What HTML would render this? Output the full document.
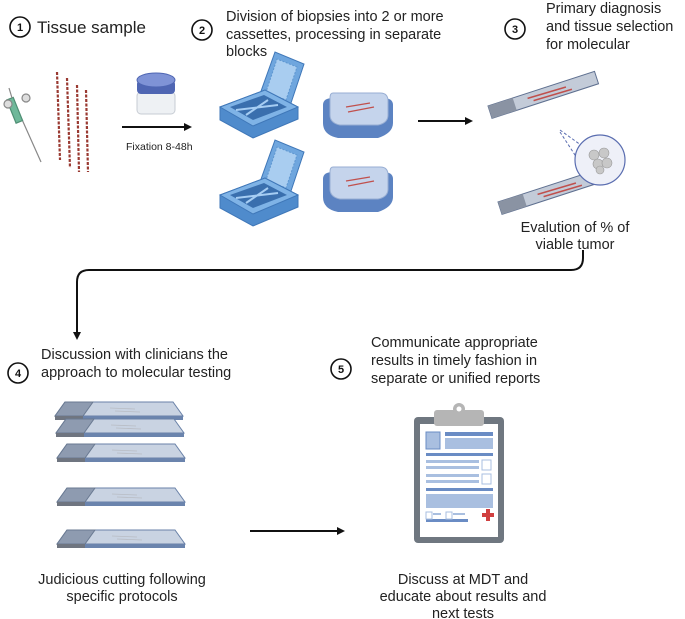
<!DOCTYPE html>
<html><head><meta charset="utf-8"><style>
html,body{margin:0;padding:0;background:#fff;}
svg{display:block;font-family:"Liberation Sans",sans-serif;}
</style></head><body>
<svg width="685" height="619" viewBox="0 0 685 619" xmlns="http://www.w3.org/2000/svg">
<defs>
<marker id="ah" markerWidth="8" markerHeight="8" refX="6" refY="4" orient="auto" markerUnits="userSpaceOnUse"><path d="M0,0 L8,4 L0,8 z" fill="#111"/></marker>
<g id="slide">
<path d="M10,0 L118,0 L128,14 L0,14 z" fill="#c9d3e2" stroke="#6a82a8" stroke-width="1"/>
<path d="M10,0 L38,0 L28,14 L0,14 z" fill="#8e9bb0" stroke="#6a7a92" stroke-width="1"/>
<rect x="0" y="14" width="128" height="4" fill="#6b84ad"/>
<rect x="0" y="14" width="28" height="4" fill="#6f7580"/>
<path d="M55,6 L80,7 M60,9 L85,10" stroke="#b8bcc4" stroke-width="0.8"/>
</g>
<g id="cass">
<!-- lid -->
<path d="M40,32 L70,44 L84,2 L55,-10 z" fill="#6fa6de" stroke="#3f77b8"/>
<path d="M46,30 L66,38 L77,5 L57,-3 z" fill="#a9cdf0" stroke="#5f97d0" stroke-dasharray="2 1.5"/>
<!-- base -->
<path d="M0,45 L45,28 L78,45 L78,57 L33,76 L0,58 z" fill="#4f8bcc" stroke="#3f77b8"/>
<path d="M0,45 L45,28 L78,45 L33,64 z" fill="#7fb3e6" stroke="#3f77b8"/>
<path d="M10,45 L44,33 L67,45 L33,58 z" fill="#3a6fae"/>
<path d="M16,48 L58,43 M26,53 L48,38" stroke="#a6cdf3" stroke-width="2"/>
</g>
<g id="block">
<path d="M5,25 L5,12 Q5,5 15,5 L65,5 Q75,5 75,12 L75,30 Q75,40 60,45 L20,45 Q5,42 5,30 z" fill="#5c83c2"/>
<path d="M15,0 L62,0 Q70,0 70,8 L70,22 Q70,30 60,32 L22,32 Q12,30 12,22 L12,5 Q12,0 15,0 z" fill="#c5d4ec" stroke="#98aed3"/>
<path d="M28,14 L52,10 M30,19 L56,14" stroke="#c0504d" stroke-width="1.3"/>
</g>
</defs>

<g fill="none" stroke="#111" stroke-width="1.6">
<circle cx="20" cy="27" r="10"/><circle cx="202" cy="30" r="10"/><circle cx="515" cy="29" r="10"/>
<circle cx="18" cy="373" r="10"/><circle cx="341" cy="369" r="10"/>
</g>
<g font-size="11" font-weight="bold" text-anchor="middle" fill="#111">
<text x="20" y="31">1</text><text x="202" y="34">2</text><text x="515" y="33">3</text>
<text x="18" y="377">4</text><text x="341" y="373">5</text>
</g>
<g fill="#222">
<text x="37" y="33" font-size="17">Tissue sample</text>
<g font-size="14.5"><text x="226" y="21">Division of biopsies into 2 or more</text>
<text x="226" y="39">cassettes, processing in separate</text>
<text x="226" y="56">blocks</text>
<text x="546" y="13">Primary diagnosis</text>
<text x="546" y="31">and tissue selection</text>
<text x="546" y="49">for molecular</text>
<text x="41" y="359">Discussion with clinicians the</text>
<text x="41" y="377">approach to molecular testing</text>
<text x="371" y="347">Communicate appropriate</text>
<text x="371" y="365">results in timely fashion in</text>
<text x="371" y="383">separate or unified reports</text>
<g text-anchor="middle">
<text x="575" y="232">Evalution of % of</text>
<text x="575" y="249">viable tumor</text>
<text x="122" y="584">Judicious cutting following</text>
<text x="122" y="601">specific protocols</text>
<text x="463" y="584">Discuss at MDT and</text>
<text x="463" y="601">educate about results and</text>
<text x="463" y="618">next tests</text>
</g></g>
<text x="126" y="150" font-size="10.5">Fixation 8-48h</text>
</g>

<g stroke="#111" stroke-width="2" fill="none" marker-end="url(#ah)">
<line x1="122" y1="127" x2="190" y2="127"/>
<line x1="418" y1="121" x2="471" y2="121"/>
<line x1="250" y1="531" x2="343" y2="531"/>
<path d="M583,250 L583,258 Q583,270 571,270 L89,270 Q77,270 77,282 L77,338"/>
</g>

<g stroke="#888" stroke-width="1.2" fill="none">
<line x1="20" y1="115" x2="41" y2="162"/>
<rect x="11" y="98" width="7" height="25" fill="#6fb89a" stroke="#4f8f74" transform="rotate(-22 14 110)"/>
<circle cx="8" cy="104" r="4" fill="#ddd"/><circle cx="26" cy="98" r="4" fill="#ddd"/>
<line x1="9" y1="88" x2="12" y2="98"/>
</g>
<g stroke="#9a3a32" stroke-width="2.2" stroke-dasharray="3 1.5">
<line x1="57" y1="72" x2="60" y2="160"/><line x1="67" y1="78" x2="70" y2="168"/>
<line x1="77" y1="85" x2="79" y2="172"/><line x1="86" y1="90" x2="88" y2="172"/>
</g>
<rect x="137" y="92" width="38" height="22" rx="4" fill="#eef1f4" stroke="#c7ccd3"/>
<rect x="137" y="80" width="38" height="14" rx="4" fill="#4f66b3"/>
<ellipse cx="156" cy="80" rx="19" ry="7" fill="#7f93d6" stroke="#4f66b3"/>

<use href="#cass" x="220" y="62"/>
<use href="#cass" x="220" y="150"/>
<use href="#block" x="318" y="93"/>
<use href="#block" x="318" y="167"/>

<g transform="translate(488,106) rotate(-18)">
<rect x="0" y="0" width="112" height="13" fill="#c3cbd8" stroke="#5f7090"/>
<rect x="0" y="0" width="26" height="13" fill="#8a93a3"/>
<path d="M40,5 L80,6 M45,9 L85,10" stroke="#c0504d" stroke-width="1.5"/>
</g>
<g transform="translate(498,202) rotate(-18)">
<rect x="0" y="0" width="110" height="13" fill="#c3cbd8" stroke="#5f7090"/>
<rect x="0" y="0" width="26" height="13" fill="#8a93a3"/>
<path d="M40,5 L80,6 M45,9 L85,10" stroke="#c0504d" stroke-width="1.5"/>
</g>
<path d="M560,130 L585,148 M560,132 L590,178" stroke="#5a6db0" stroke-dasharray="3 2" fill="none"/>
<circle cx="600" cy="160" r="25" fill="#eef0f8" stroke="#5a6db0" stroke-width="1.2"/>
<g fill="#c8c8c8" stroke="#9a9a9a" stroke-width="0.6">
<circle cx="594" cy="155" r="5"/><circle cx="604" cy="153" r="5"/><circle cx="598" cy="164" r="5"/><circle cx="607" cy="163" r="5"/><circle cx="600" cy="170" r="4"/>
</g>

<use href="#slide" x="55" y="402"/>
<use href="#slide" x="56" y="419"/>
<use href="#slide" x="57" y="444"/>
<use href="#slide" x="57" y="488"/>
<use href="#slide" x="57" y="530"/>

<rect x="414" y="417" width="90" height="126" rx="4" fill="#6f7780"/>
<rect x="420" y="424" width="78" height="113" fill="#fff"/>
<rect x="434" y="410" width="50" height="16" rx="3" fill="#b5b5b5"/>
<circle cx="459" cy="409" r="6" fill="#b5b5b5"/><circle cx="459" cy="409" r="2.5" fill="#fff"/>
<g fill="#a9bfe0">
<rect x="426" y="432" width="14" height="17" fill="#a9bfe0" stroke="#6a8cc4"/>
<rect x="445" y="432" width="48" height="4" fill="#6a8cc4"/>
<rect x="445" y="438" width="48" height="11"/>
<rect x="426" y="453" width="67" height="3" fill="#6a8cc4"/>
<rect x="426" y="460" width="53" height="3"/><rect x="426" y="466" width="53" height="3"/>
<rect x="426" y="474" width="53" height="3"/><rect x="426" y="480" width="53" height="3"/>
<rect x="426" y="488" width="67" height="3" fill="#6a8cc4"/>
<rect x="426" y="494" width="67" height="14"/>
<rect x="426" y="519" width="42" height="3" fill="#6a8cc4"/>
<rect x="433" y="513" width="8" height="2"/><rect x="453" y="513" width="12" height="2"/>
</g>
<g fill="#fff" stroke="#a9bfe0"><rect x="482" y="460" width="9" height="10"/><rect x="482" y="474" width="9" height="10"/>
<rect x="426" y="512" width="6" height="7"/><rect x="446" y="512" width="6" height="7"/></g>
<path d="M482,513 h4 v-4 h4 v4 h4 v4 h-4 v4 h-4 v-4 h-4 z" fill="#d04040"/>
</svg>
</body></html>
